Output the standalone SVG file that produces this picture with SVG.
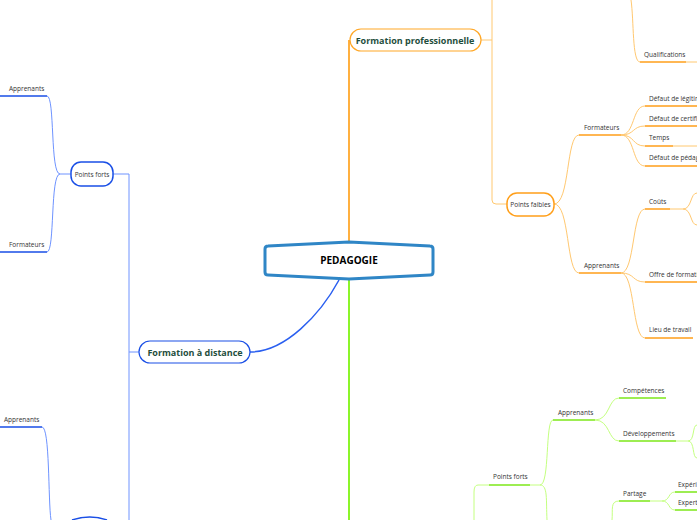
<svg xmlns="http://www.w3.org/2000/svg" width="697" height="520" viewBox="0 0 697 520">
<style>
text{font-family:"Open Sans","Noto Sans",sans-serif;fill:#333;font-size:6.5px}
.b{font-weight:bold;fill:#1f4e3d;font-size:9px}
.o{stroke:#ffc870;fill:none;stroke-width:1}
.ou{stroke:#ff9f1a;fill:none;stroke-width:1.5}
.bl{stroke:#6e93ff;fill:none;stroke-width:1}
.blu{stroke:#1a4fe6;fill:none;stroke-width:1.5}
.g{stroke:#c4ff80;fill:none;stroke-width:1}
.gu{stroke:#7ee81a;fill:none;stroke-width:1.5}
</style>
<rect width="697" height="520" fill="#fff"/>
<g id="connectors">
<path d="M349 242V40" stroke="#ffb040" stroke-width="2" fill="none"/>
<path d="M349 280V520" stroke="#8cf52a" stroke-width="2" fill="none"/>
<path d="M339 280C320 315 285 352 250 352" stroke="#2a5ff0" stroke-width="1.5" fill="none"/>
<path class="o" d="M481 40H492M492 0V200Q492 204 496 204H507"/>
<path class="o" d="M554 204C570 204 566 135 579 135M554 204C570 204 566 273 579 273"/>
<path class="ou" d="M579 135H621M579 273H621"/>
<path class="o" d="M621 135C635 135 632 106 645 106M621 135C635 135 632 126 645 126M621 135C635 135 632 146 645 146M621 135C635 135 632 166 645 166"/>
<path class="ou" d="M645 106H697M645 126H697M645 166H697M645 146H673"/>
<path class="o" d="M673 146H697"/>
<path class="o" d="M621 273C635 273 632 209 645 209M621 273C635 273 632 282 645 282M621 273C635 273 632 338 645 338"/>
<path class="ou" d="M645 209H670M645 282H697M645 338H693"/>
<path class="o" d="M670 209H683C692 209 690 193 697 193M683 209C692 209 690 225 697 225"/>
<path class="o" d="M631 0C634 20 632 62 640 62"/>
<path class="ou" d="M640 62H686"/>
<path class="o" d="M686 62H697"/>
<path class="bl" d="M139 352H129M129 174V520M113 174H129"/>
<path class="bl" d="M71 174H60C50 174 55 96 47 96M60 174C50 174 55 252 47 252M42 427C50 427 48 500 51 520"/>
<path class="blu" d="M0 96H47M0 252H47M0 427H42"/>
<path class="blu" d="M72 520Q90 514 107 520"/>
<path class="g" d="M489 485H478Q474 485 474 492V520M530 485H540C550 485 545 420 553 420M540 485C548 485 546 500 547 520"/>
<path class="gu" d="M489 485H530M553 420H595M619 398H666M619 441H676M619 501H650M675 492H697M675 510H697"/>
<path class="g" d="M595 420C610 420 608 398 619 398M595 420C610 420 608 441 619 441M676 441H688C695 441 692 425 697 425M688 441C695 441 692 458 697 458M650 501H662C670 501 668 492 675 492M662 501C670 501 668 510 675 510M619 501C610 501 613 510 612 520"/>
</g>
<g id="center">
<path d="M268 246L349 242L430 246Q433 246 433 249V272Q433 275 430 275L349 279L268 275Q265 275 265 272V249Q265 246 268 246Z" fill="#fff" stroke="#2f86c6" stroke-width="3"/>
<text x="349" y="264" text-anchor="middle" style="font-weight:bold;font-size:10px;fill:#000">PEDAGOGIE</text>
</g>
<g id="fp"><rect x="350" y="29" width="131" height="22" rx="11" fill="#fff" stroke="#ffa726" stroke-width="1.2"/><text class="b" x="415" y="43.5" text-anchor="middle">Formation professionnelle</text></g>
<g id="pfaibles"><rect x="507" y="193" width="47" height="23" rx="10" fill="#fff" stroke="#ff9f1a" stroke-width="1.5"/><text x="530.5" y="206.5" text-anchor="middle">Points faibles</text></g>
<g id="f1"><text x="584" y="130">Formateurs</text></g>
<g id="a1"><text x="584" y="268">Apprenants</text></g>
<g id="d1"><text x="649" y="101">Défaut de légitim</text></g>
<g id="d2"><text x="649" y="121">Défaut de certific</text></g>
<g id="d3"><text x="649" y="140">Temps</text></g>
<g id="d4"><text x="649" y="160">Défaut de pédago</text></g>
<g id="c1"><text x="649" y="204">Coûts</text></g>
<g id="c2"><text x="649" y="277">Offre de formatio</text></g>
<g id="c3"><text x="649" y="332">Lieu de travail</text></g>
<g id="q"><text x="644" y="57">Qualifications</text></g>
<g id="fd"><rect x="139" y="341" width="111" height="22" rx="11" fill="#fff" stroke="#1a4fe6" stroke-width="1.2"/><text class="b" x="195" y="355.5" text-anchor="middle">Formation à distance</text></g>
<g id="pforts1"><rect x="71" y="162" width="42" height="24" rx="10" fill="#fff" stroke="#1a4fe6" stroke-width="1.5"/><text x="92" y="176.5" text-anchor="middle">Points forts</text></g>
<g id="ba1"><text x="9" y="91">Apprenants</text></g>
<g id="bf1"><text x="9" y="247">Formateurs</text></g>
<g id="ba2"><text x="4" y="422">Apprenants</text></g>
<g id="gpf"><text x="493" y="479">Points forts</text></g>
<g id="ga"><text x="558" y="415">Apprenants</text></g>
<g id="gc"><text x="623" y="393">Compétences</text></g>
<g id="gd"><text x="623" y="436">Développements</text></g>
<g id="gp"><text x="623" y="496">Partage</text></g>
<g id="ge1"><text x="678" y="487">Expéri</text></g>
<g id="ge2"><text x="678" y="505">Experti</text></g>
</svg>
